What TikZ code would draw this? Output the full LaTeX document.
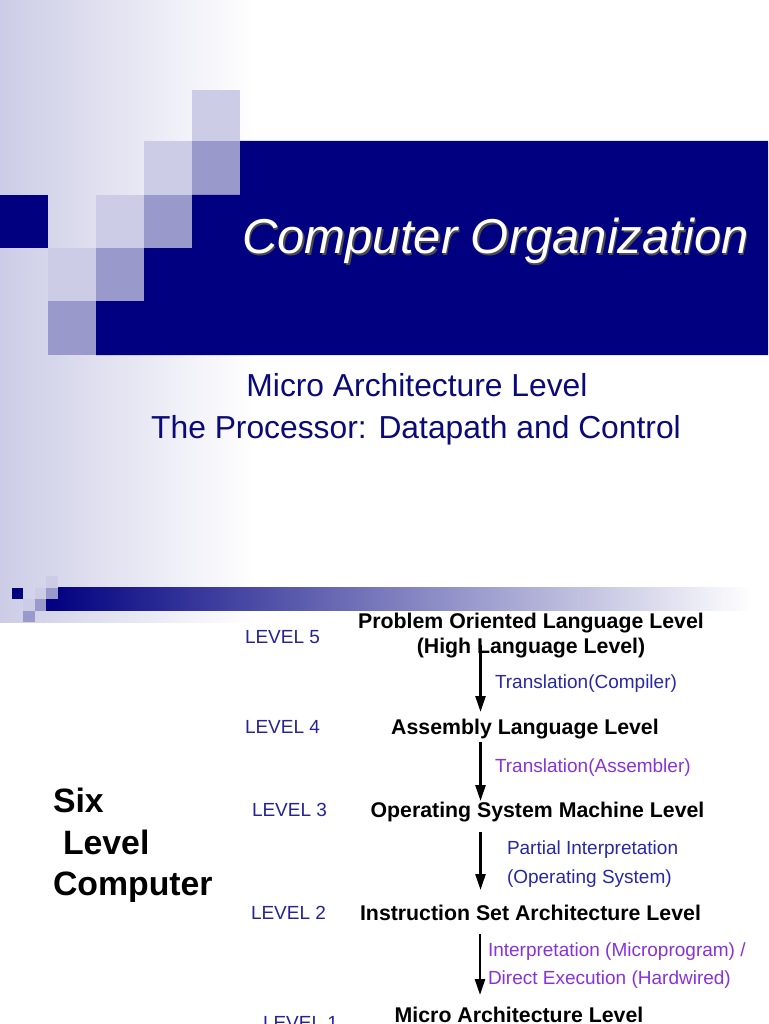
\documentclass[tikz,border=0pt]{standalone}
\usepackage{fontspec}
\setmainfont{Liberation Sans}
\usetikzlibrary{arrows.meta}
\definecolor{navyband}{RGB}{0,0,128}
\definecolor{lavlight}{RGB}{204,204,230}
\definecolor{lavmed}{RGB}{153,153,204}
\definecolor{lvblue}{RGB}{36,36,150}
\definecolor{trblue}{RGB}{40,40,165}
\definecolor{trpurple}{RGB}{136,50,220}
\definecolor{subblue}{RGB}{10,10,120}
\tikzset{
  txt/.style={inner sep=0pt, outer sep=0pt},
  levellbl/.style={txt, anchor=base west, font=\fontsize{19}{21}\selectfont, text=lvblue},
  levelname/.style={txt, anchor=base, font=\fontsize{21.3}{23}\selectfont\bfseries, text=black},
  transblue/.style={txt, anchor=base west, font=\fontsize{19}{21}\selectfont, text=trblue},
  transpurple/.style={txt, anchor=base west, font=\fontsize{19}{21}\selectfont, text=trpurple},
  sixlbl/.style={txt, anchor=base west, font=\fontsize{33.8}{36}\selectfont\bfseries, text=black},
  subtl/.style={txt, anchor=base, font=\fontsize{31.8}{34}\selectfont, text=subblue},
  flow/.style={line width=2.5pt, -{Triangle[length=16pt,width=10pt]}},
}
\begin{document}
\begin{tikzpicture}[x=1pt,y=-1pt]
\useasboundingbox (0,0) rectangle (768,1024);
\fill[white] (0,0) rectangle (768,1024);
% top-left lavender background
\shade[left color=lavlight, right color=white, shading angle=90] (0,0) rectangle (255,622);
% big squares
\fill[lavlight] (192,90) rectangle (240,141);
\fill[lavlight] (144,141) rectangle (192,195);
\fill[lavlight] (96,195) rectangle (144,248);
\fill[lavlight] (48,248) rectangle (96,301);
\fill[lavmed] (192,141) rectangle (240,195);
\fill[lavmed] (144,195) rectangle (192,248);
\fill[lavmed] (96,248) rectangle (144,301);
\fill[lavmed] (48,301) rectangle (96,355);
\fill[navyband] (0,195) rectangle (48,248);
% navy band
\fill[navyband] (240,141) -- (768,141) -- (768,355) -- (96,355) -- (96,301) -- (144,301)
  -- (144,248) -- (192,248) -- (192,195) -- (240,195) -- cycle;
% title
\node[txt, anchor=base, font=\fontsize{49}{53}\selectfont\itshape, text=black!70] at (497,255) {Computer Organization};
\node[txt, anchor=base, font=\fontsize{49}{53}\selectfont\itshape, text=white] (title) at (495.5,253.5) {Computer Organization};
% subtitle
\node[subtl] (sub1) at (417,396) {Micro Architecture Level};
\node[subtl] (sub2) at (416,438) {The Processor: Datapath and Control};
% small squares and gradient bar
\shade[left color=navyband, right color=white] (46,587.5) rectangle (752,610.5);
\fill[lavlight] (46,576) rectangle (57.5,587.5);
\fill[lavlight] (34.5,587.5) rectangle (46,599);
\fill[lavlight] (23,599) rectangle (34.5,610.5);
\fill[lavmed] (46,587.5) rectangle (57.5,599);
\fill[lavmed] (34.5,599) rectangle (46,610.5);
\fill[lavmed] (23,610.5) rectangle (34.5,622);
\fill[navyband] (11.5,587.5) rectangle (23,599);
% Six Level Computer
\node[sixlbl] (six) at (53,812) {Six};
\node[sixlbl] (lvl) at (63,854) {Level};
\node[sixlbl] (comp) at (53,895) {Computer};
% level labels
\node[levellbl] (l5) at (245,643) {LEVEL 5};
\node[levellbl] (l4) at (245,733) {LEVEL 4};
\node[levellbl] (l3) at (252,816) {LEVEL 3};
\node[levellbl] (l2) at (251,919) {LEVEL 2};
\node[levellbl] (l1) at (263,1029) {LEVEL 1};
% level names
\node[levelname] (n5a) at (531,628.5) {Problem Oriented Language Level};
\node[levelname] (n5b) at (531,653) {(High Language Level)};
\node[levelname] (n4) at (525,734) {Assembly Language Level};
\node[levelname] (n3) at (537.5,817) {Operating System Machine Level};
\node[levelname] (n2) at (530.5,920) {Instruction Set Architecture Level};
\node[levelname] (n1) at (519,1022) {Micro Architecture Level};
% transitions
\node[transblue] (t5) at (495,688) {Translation(Compiler)};
\node[transpurple] (t4) at (495,772) {Translation(Assembler)};
\node[transblue] (t3a) at (507,854) {Partial Interpretation};
\node[transblue] (t3b) at (507,883) {(Operating System)};
\node[transpurple] (t2a) at (488,956) {Interpretation (Microprogram) /};
\node[transpurple] (t2b) at (488,984) {Direct Execution (Hardwired)};
% arrows
\coordinate (a5s) at (480.5,645);
\coordinate (a5e) at (480.5,712);
\coordinate (a4s) at (480.5,742);
\coordinate (a4e) at (480.5,801);
\coordinate (a3s) at (480.5,832);
\coordinate (a3e) at (480.5,890);
\coordinate (a2s) at (480,934);
\coordinate (a2e) at (480,995);
\draw[flow] (a5s) -- (a5e);
\draw[flow] (a4s) -- (a4e);
\draw[flow] (a3s) -- (a3e);
\draw[flow] (a2s) -- (a2e);
\end{tikzpicture}
\end{document}
